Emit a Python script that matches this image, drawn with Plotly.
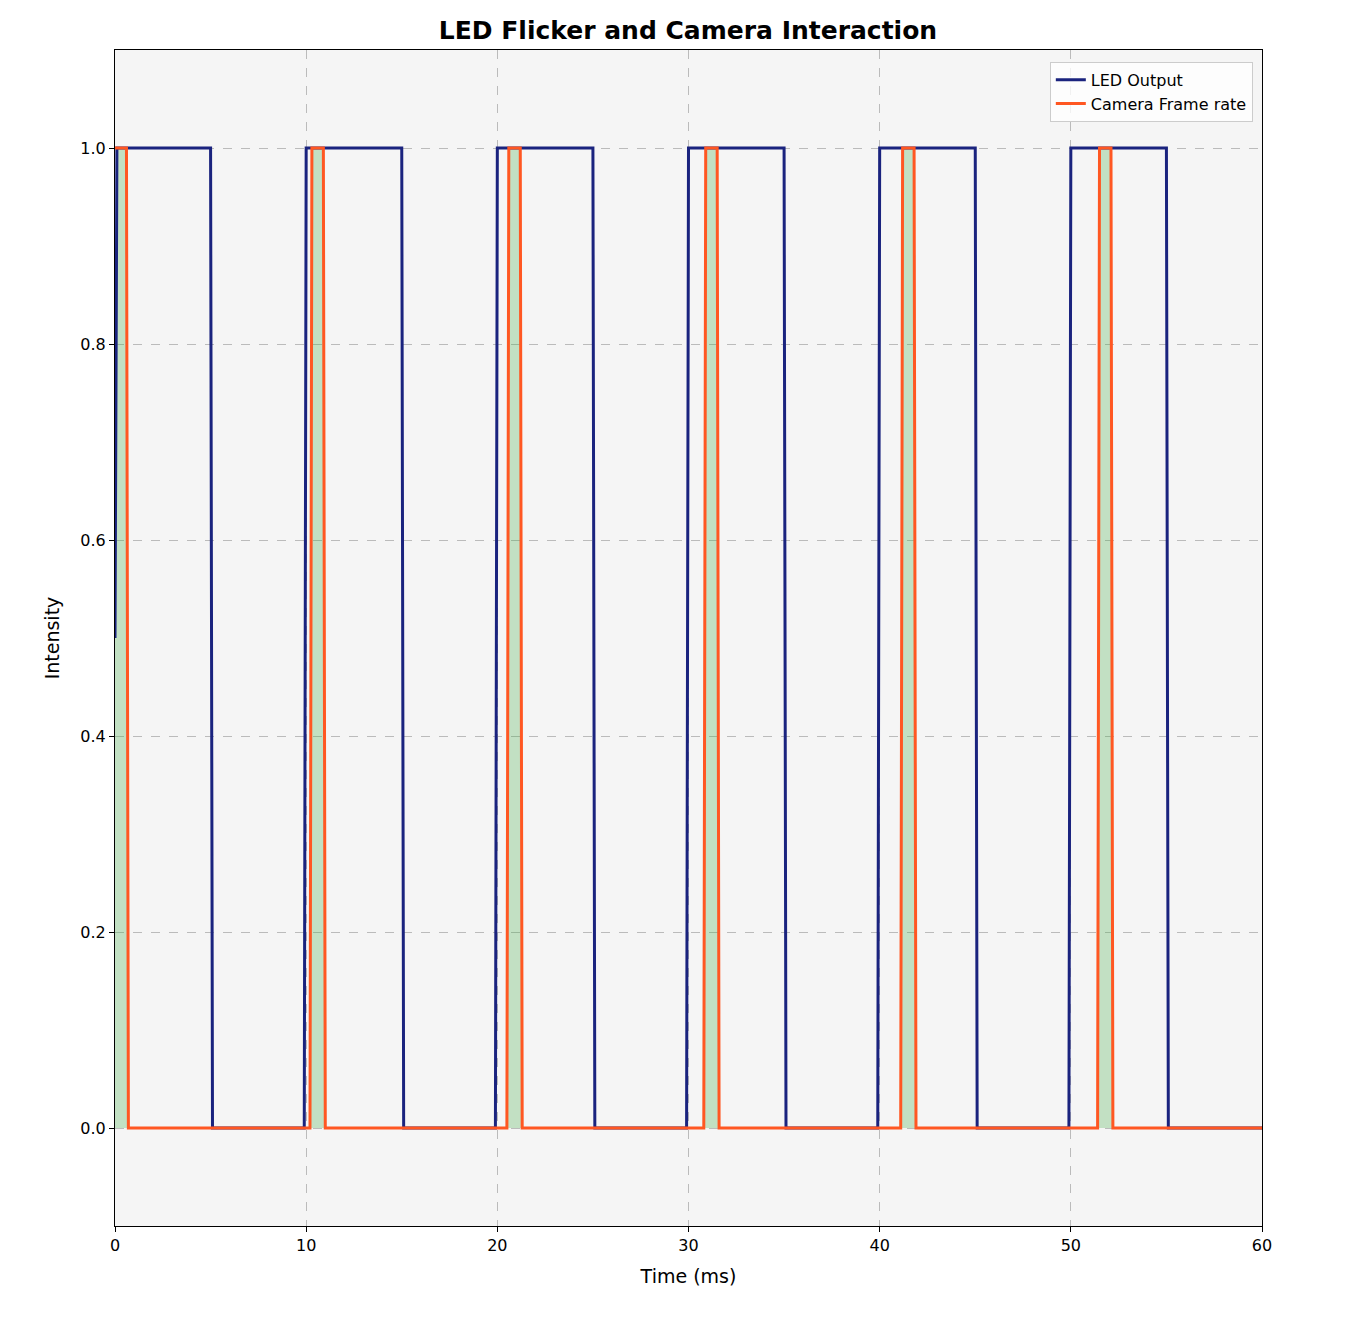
import numpy as np
import plotly.graph_objects as go

# LED on-intervals (ms) and camera exposure windows (ms)
led_on = [(0, 5), (10, 15), (20, 25), (30, 35), (40, 45), (50, 55)]
cam_on = [(0, 0.6), (10.3, 10.9), (20.6, 21.2), (30.9, 31.5), (41.2, 41.8), (51.5, 52.1)]

t = np.round(np.arange(0, 60.01, 0.1), 2)


def square(intervals):
    y = np.zeros_like(t)
    for a, b in intervals:
        y[(t >= a) & (t <= b)] = 1.0
    return y


led = square(led_on)
led[0] = 0.5
cam = square(cam_on)
both = np.minimum(led, cam)

fig = go.Figure()
fig.add_trace(go.Scatter(x=t, y=both, mode='lines', line=dict(width=0),
                         fill='tozeroy', fillcolor='rgba(76,175,80,0.3)',
                         showlegend=False, hoverinfo='skip'))
fig.add_trace(go.Scatter(x=t, y=led, mode='lines', name='LED Output',
                         line=dict(color='#1a237e', width=3)))
fig.add_trace(go.Scatter(x=t, y=cam, mode='lines', name='Camera Frame rate',
                         line=dict(color='#ff5722', width=3)))

axis = dict(showline=True, linecolor='black', mirror=True, ticks='outside',
            tickcolor='black', showgrid=True, gridcolor='#bbbbbb', griddash='dash',
            zeroline=False, tickfont=dict(size=16, color='black'))
fig.update_layout(
    width=1360, height=1324,
    template='plotly_white',
    font=dict(family='DejaVu Sans', color='black'),
    title=dict(text='<b>LED Flicker and Camera Interaction</b>', x=0.5, y=0.99,
               xanchor='center', font=dict(size=25)),
    plot_bgcolor='#f5f5f5', paper_bgcolor='white',
    margin=dict(l=107, r=106, t=42, b=106),
    xaxis=dict(axis, range=[0, 60], dtick=10,
               title=dict(text='Time (ms)', font=dict(size=19))),
    yaxis=dict(axis, range=[-0.1, 1.1], tickvals=[0, 0.2, 0.4, 0.6, 0.8, 1.0],
               ticktext=['0.0', '0.2', '0.4', '0.6', '0.8', '1.0'],
               title=dict(text='Intensity', font=dict(size=19))),
    legend=dict(x=0.992, y=0.99, xanchor='right', yanchor='top',
                bgcolor='rgba(255,255,255,0.8)', bordercolor='#cccccc', borderwidth=1,
                font=dict(size=16)),
)

fig.write_html("out.html")
